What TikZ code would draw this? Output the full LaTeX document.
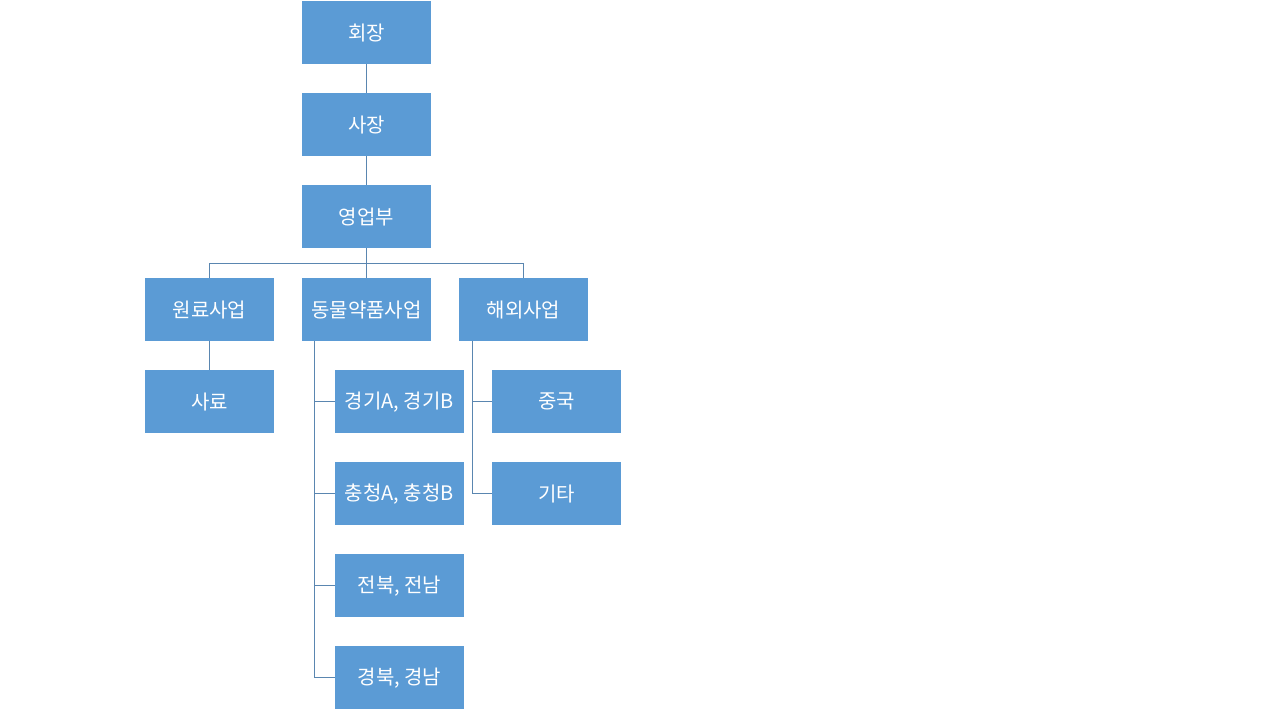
\documentclass[tikz,border=0pt]{standalone}
\usepackage{fontspec}
\setmainfont{Noto Sans CJK KR}
\definecolor{boxfill}{HTML}{5B9BD5}
\definecolor{linec}{HTML}{5A86B0}
\begin{document}
\begin{tikzpicture}[x=1pt,y=-1pt,
  box/.style={fill=boxfill, draw=none, minimum width=128.5pt, minimum height=63pt, inner sep=0pt, text=white, font=\fontsize{20}{24}\selectfont, anchor=north west},
  conn/.style={draw=linec, line width=1pt}]
\useasboundingbox (0,0) rectangle (1280,720);
\fill[white] (0,0) rectangle (1280,720);
\node[box] (hz) at (302,1) {회장};
\node[box] (sj) at (302,93) {사장};
\node[box] (yb) at (302,185) {영업부};
\node[box] (wr) at (145,278) {원료사업};
\node[box] (dm) at (302,278) {동물약품사업};
\node[box] (hw) at (459,278) {해외사업};
\node[box] (sr) at (145,370) {사료};
\node[box] (gg) at (335,370) {경기A, 경기B};
\node[box] (cc) at (335,462) {충청A, 충청B};
\node[box] (jb) at (335,554) {전북, 전남};
\node[box] (kb) at (335,646) {경북, 경남};
\node[box] (cn) at (492,370) {중국};
\node[box] (gt) at (492,462) {기타};
\coordinate (hy) at (0,263);
\coordinate (dx) at (314,0);
\coordinate (hx) at (472,0);
\draw[conn] (hz.south) -- (sj.north);
\draw[conn] (sj.south) -- (yb.north);
\draw[conn] (yb.south) -- (yb.south |- hy);
\draw[conn] (wr.north) -- (wr.north |- hy) -- (hw.north |- hy) -- (hw.north);
\draw[conn] (dm.north |- hy) -- (dm.north);
\draw[conn] (wr.south) -- (sr.north);
\draw[conn] (dx |- dm.south) -- (dx |- kb.west) -- (kb.west);
\draw[conn] (dx |- gg.west) -- (gg.west);
\draw[conn] (dx |- cc.west) -- (cc.west);
\draw[conn] (dx |- jb.west) -- (jb.west);
\draw[conn] (hx |- hw.south) -- (hx |- gt.west) -- (gt.west);
\draw[conn] (hx |- cn.west) -- (cn.west);
\end{tikzpicture}
\end{document}
